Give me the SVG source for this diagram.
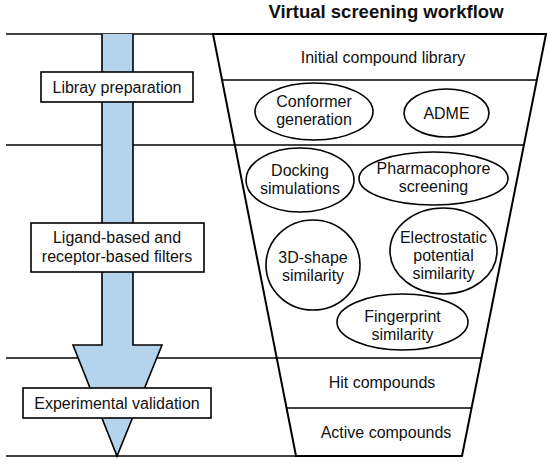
<svg xmlns="http://www.w3.org/2000/svg" width="550" height="464" viewBox="0 0 550 464">
<style>
text{font-family:"Liberation Sans",Arial,sans-serif;font-size:16px;fill:#111;text-anchor:middle}
.title{font-weight:bold;font-size:18.5px}
.ln{stroke:#000;stroke-width:1.6;fill:none}
.box{fill:#fff;stroke:#000;stroke-width:1.6}
.ell{fill:#fff;stroke:#000;stroke-width:1.6}
</style>
<rect width="550" height="464" fill="#fff"/>
<text class="title" x="386" y="18">Virtual screening workflow</text>
<g id="connectors">
<line class="ln" x1="6" y1="34" x2="214" y2="34"/>
<line class="ln" x1="6" y1="145" x2="524" y2="145"/>
<line class="ln" x1="6" y1="358" x2="481.5" y2="358"/>
<line class="ln" x1="6" y1="456" x2="296" y2="456"/>
</g>
<g id="arrow">
<path d="M102,34 L102,345 L73,345 L117,456 L162,345 L133,345 L133,34" fill="#b4d3ec" stroke="#000" stroke-width="1.6" stroke-linejoin="miter"/>
</g>
<g id="funnel">
<polygon points="213,34 546,34 462,456 296,456" fill="none" stroke="#000" stroke-width="2"/>
<line class="ln" x1="222" y1="80" x2="537" y2="80"/>
<line class="ln" x1="286.5" y1="408" x2="471.5" y2="408"/>
</g>
<g id="lib-prep"><rect class="box" x="41" y="72" width="152" height="30"/><text x="117" y="93">Libray preparation</text></g>
<g id="filters"><rect class="box" x="31" y="223" width="173" height="49"/><text x="117" y="243">Ligand-based and</text><text x="117" y="262">receptor-based filters</text></g>
<g id="exp-val"><rect class="box" x="23" y="388" width="188" height="30"/><text x="117" y="409">Experimental validation</text></g>
<g id="initial"><text x="383" y="63">Initial compound library</text></g>
<g id="conformer"><ellipse class="ell" cx="314" cy="111.5" rx="59" ry="28.5"/><text x="314" y="107">Conformer</text><text x="314" y="125">generation</text></g>
<g id="adme"><ellipse class="ell" cx="446.5" cy="113" rx="42.5" ry="24"/><text x="446.5" y="119">ADME</text></g>
<g id="docking"><ellipse class="ell" cx="300" cy="180" rx="54" ry="32"/><text x="300" y="176">Docking</text><text x="300" y="194">simulations</text></g>
<g id="pharmacophore"><ellipse class="ell" cx="433.5" cy="178.5" rx="74.5" ry="26.5"/><text x="433.5" y="174">Pharmacophore</text><text x="433.5" y="192">screening</text></g>
<g id="shape3d"><ellipse class="ell" cx="313" cy="265" rx="47" ry="45"/><text x="313" y="263">3D-shape</text><text x="313" y="281">similarity</text></g>
<g id="electrostatic"><ellipse class="ell" cx="443.5" cy="251" rx="53.5" ry="43"/><text x="443.5" y="243">Electrostatic</text><text x="443.5" y="261">potential</text><text x="443.5" y="279">similarity</text></g>
<g id="fingerprint"><ellipse class="ell" cx="402.5" cy="322" rx="65.5" ry="28"/><text x="402.5" y="322">Fingerprint</text><text x="402.5" y="340">similarity</text></g>
<g id="hit"><text x="382" y="388">Hit compounds</text></g>
<g id="active"><text x="386" y="438">Active compounds</text></g>
</svg>
